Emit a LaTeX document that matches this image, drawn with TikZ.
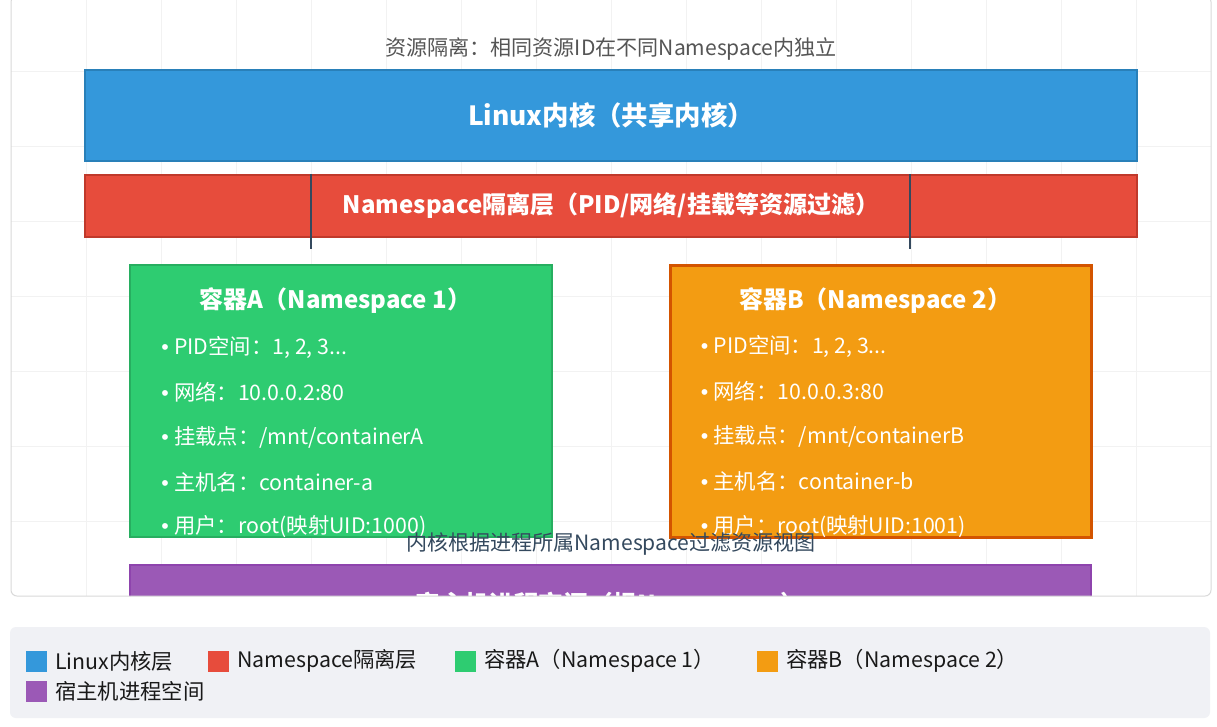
\documentclass[tikz,border=0pt]{standalone}
\usepackage{fontspec}
\setmainfont{Noto Sans CJK SC}
\newfontfamily\bulletfont{Liberation Sans}
\usetikzlibrary{positioning}
\definecolor{kblue}{HTML}{3498DB}
\definecolor{kblueline}{HTML}{2980B9}
\definecolor{kred}{HTML}{E74C3C}
\definecolor{kredline}{HTML}{C0392B}
\definecolor{kgreen}{HTML}{2ECC71}
\definecolor{kgreenline}{HTML}{27AE60}
\definecolor{korange}{HTML}{F39C12}
\definecolor{korangeline}{HTML}{D35400}
\definecolor{kpurple}{HTML}{9B59B6}
\definecolor{kpurpleline}{HTML}{8E44AD}
\definecolor{linkgray}{HTML}{34495E}
\definecolor{notegray}{HTML}{555555}
\definecolor{gridgray}{HTML}{F2F2F2}
\definecolor{legendbg}{HTML}{F0F1F5}
\newcommand{\dotitem}{{\bulletfont •}\hspace{4pt}}

\begin{document}
\begin{tikzpicture}[x=0.75pt, y=-0.75pt,
    bar/.style={draw, line width=1.5pt, inner sep=0pt, text=white, font=\bfseries\fontsize{19.8}{23}\selectfont},
    title/.style={inner sep=0pt, text=white, font=\bfseries\fontsize{18}{22}\selectfont},
    item/.style={anchor=west, inner sep=0pt, text=white, font=\fontsize{16}{19}\selectfont},
    note/.style={inner sep=0pt, font=\fontsize{15.8}{19}\selectfont},
    gridline/.style={draw=gridgray, line width=0.75pt},
    link/.style={draw=linkgray, line width=1.9pt, shorten >=11pt},
    swatch/.style={anchor=west, minimum size=15.75pt, inner sep=0pt},
    legtext/.style={anchor=west, inner sep=0pt, text=black!90, font=\fontsize{16}{19}\selectfont}]
    \useasboundingbox (0,0) rectangle (1217,726);
    \fill[white] (0,0) rectangle (1217,726);

    % diagram panel with grid
    \fill[white, rounded corners=4.5pt] (11,-4) rectangle (1211,596);
    \begin{scope}
        \clip[rounded corners=4.5pt] (11,-4) rectangle (1211,596);
        \foreach \i in {1,...,15}
            \draw[gridline] (11+75*\i,-4) -- (11+75*\i,596);
        \foreach \j in {1,...,7}
            \draw[gridline] (11,-4+75*\j) -- (1211,-4+75*\j);

        \node[note, text=notegray] (isonote) at (611,49) {资源隔离：相同资源ID在不同Namespace内独立};

        \node[bar, fill=kblue, draw=kblueline, minimum width=789pt, minimum height=68.25pt] (kernel) at (611,115.5) {Linux内核（共享内核）};
        \node[bar, fill=kred, draw=kredline, minimum width=789pt, minimum height=46.5pt, font=\bfseries\fontsize{18}{22}\selectfont] (nsbar) at (611,206) {Namespace隔离层（PID/网络/挂载等资源过滤）};

        \node[draw=kgreenline, fill=kgreen, line width=1.5pt, minimum width=316.5pt, minimum height=204pt] (boxA) at (341,401) {};
        \node[draw=korangeline, fill=korange, line width=2.25pt, minimum width=315.75pt, minimum height=204pt] (boxB) at (880.5,401) {};

        \foreach \bx/\ns/\ip/\host/\uid in {A/1/2/a/1000, B/2/3/b/1001} {
            \node[title] (title\bx) at ([xshift=-4pt, yshift=-27.75pt]box\bx.north) {容器\bx（Namespace \ns）};
            \foreach \t [count=\k] in {{PID空间：1, 2, 3.{}.{}.}, {网络：10.0.0.\ip:80}, {挂载点：/mnt/container\bx}, {主机名：container-\host}, {用户：root(映射UID:\uid)}}
                \node[item] (item\bx\k) at ([xshift=24pt, yshift={-(28.5pt+33.75pt*\k)}]box\bx.north west) {\dotitem\t};
        }

        % namespace taps into the containers
        \coordinate (tapA) at (311,0);
        \coordinate (tapB) at (910,0);
        \draw[link] (nsbar.north -| tapA) -- (boxA.north -| tapA);
        \draw[link] (nsbar.north -| tapB) -- (boxB.north -| tapB);

        \node[note, text=linkgray] (viewnote) at (611,544) {内核根据进程所属Namespace过滤资源视图};

        \node[bar, fill=kpurple, draw=kpurpleline, minimum width=720.75pt, minimum height=60pt, font=\bfseries\fontsize{18.5}{22}\selectfont] (host) at (610.5,605) {宿主机进程空间（根Namespace）};
    \end{scope}
    \draw[black!15, line width=0.75pt, rounded corners=4.5pt] (11,-4) rectangle (1211,596);

    % legend
    \fill[legendbg, rounded corners=4.5pt] (10,627) rectangle (1210,718);
    \foreach \c/\t/\x/\y [count=\i] in {kblue/Linux内核层/26/661, kred/Namespace隔离层/208/661, kgreen/容器A（Namespace 1）/455/661, korange/容器B（Namespace 2）/757/661, kpurple/宿主机进程空间/26/691} {
        \node[swatch, fill=\c] (sw\i) at (\x,\y) {};
        \node[legtext, right=5.5pt of sw\i] (leg\i) {\t};
    }
\end{tikzpicture}
\end{document}
